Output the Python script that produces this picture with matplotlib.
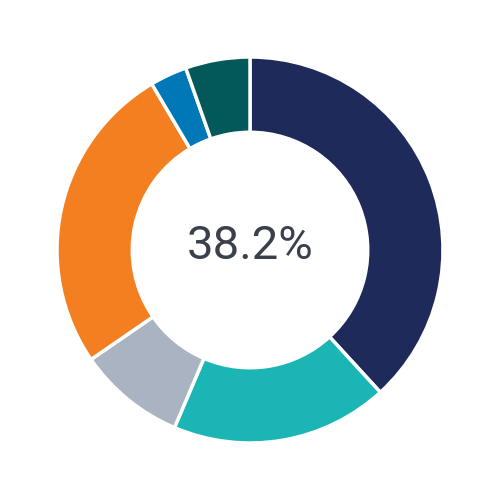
import matplotlib
matplotlib.use("Agg")
import matplotlib.pyplot as plt

# shares of each slice, clockwise from 12 o'clock
labels = ['A', 'B', 'C', 'D', 'E', 'F']
values = [38.2, 18.2, 9.0, 26.1, 3.1, 5.4]
colors = ['#1e2b5a', '#1cb5b5', '#a9b3c1', '#f47f20', '#0077b6', '#03585a']
center_label = '38.2%'

fig = plt.figure(figsize=(5, 5), dpi=100)
ax = fig.add_axes([0, 0, 1, 1])

ax.pie(values, colors=colors, startangle=90, counterclock=False,
       radius=1.0,
       wedgeprops=dict(width=0.39, edgecolor='white', linewidth=2.5))

ax.text(0, 0.02, center_label, ha='center', va='center',
        fontsize=34, family='Roboto', color='#3b414b')

lim = 250 / 193
ax.set_xlim(-lim, lim)
ax.set_ylim(-lim, lim)
ax.set_aspect('equal')
ax.axis('off')

fig.savefig('out.png', dpi=100, facecolor='white')
